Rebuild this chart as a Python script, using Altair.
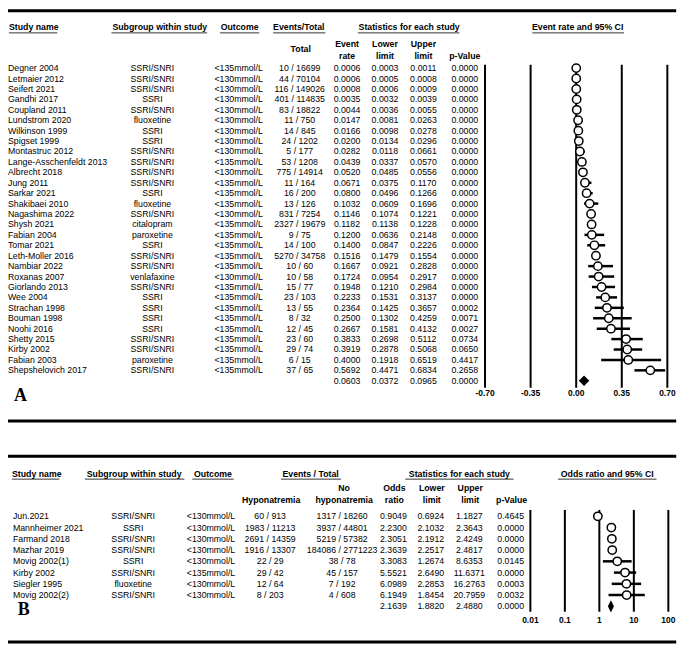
import altair as alt
import pandas as pd

# ---------------- Panel A data ----------------
a_study = ["Degner 2004", "Letmaier 2012", "Seifert 2021", "Gandhi 2017", "Coupland 2011",
           "Lundstrom 2020", "Wilkinson 1999", "Spigset 1999", "Montastruc 2012",
           "Lange-Asschenfeldt 2013", "Albrecht 2018", "Jung 2011", "Sarkar 2021",
           "Shakibaei 2010", "Nagashima 2022", "Shysh 2021", "Fabian 2004", "Tomar 2021",
           "Leth-Moller 2016", "Nambiar 2022", "Roxanas 2007", "Giorlando 2013", "Wee 2004",
           "Strachan 1998", "Bouman 1998", "Noohi 2016", "Shetty 2015", "Kirby 2002",
           "Fabian 2003", "Shepshelovich 2017"]
a_subgroup = ["SSRI/SNRI", "SSRI/SNRI", "SSRI/SNRI", "SSRI", "SSRI/SNRI", "fluoxetine", "SSRI",
              "SSRI", "SSRI/SNRI", "SSRI/SNRI", "SSRI/SNRI", "SSRI/SNRI", "SSRI", "fluoxetine",
              "SSRI/SNRI", "citalopram", "paroxetine", "SSRI", "SSRI/SNRI", "SSRI/SNRI",
              "venlafaxine", "SSRI/SNRI", "SSRI", "SSRI", "SSRI", "SSRI", "SSRI/SNRI",
              "SSRI/SNRI", "paroxetine", "SSRI/SNRI"]
a_outcome = ["<135mmol/L", "<130mmol/L", "<130mmol/L", "<130mmol/L", "<130mmol/L", "<130mmol/L",
             "<130mmol/L", "<130mmol/L", "<130mmol/L", "<135mmol/L", "<130mmol/L", "<135mmol/L",
             "<135mmol/L", "<135mmol/L", "<130mmol/L", "<135mmol/L", "<135mmol/L", "<135mmol/L",
             "<135mmol/L", "<135mmol/L", "<130mmol/L", "<135mmol/L", "<135mmol/L", "<135mmol/L",
             "<135mmol/L", "<135mmol/L", "<135mmol/L", "<135mmol/L", "<135mmol/L", "<135mmol/L"]
a_events = ["10 / 16699", "44 / 70104", "116 / 149026", "401 / 114835", "83 / 18822", "11 / 750",
            "14 / 845", "24 / 1202", "5 / 177", "53 / 1208", "775 / 14914", "11 / 164", "16 / 200",
            "13 / 126", "831 / 7254", "2327 / 19679", "9 / 75", "14 / 100", "5270 / 34758",
            "10 / 60", "10 / 58", "15 / 77", "23 / 103", "13 / 55", "8 / 32", "12 / 45", "23 / 60",
            "29 / 74", "6 / 15", "37 / 65"]
a_rate = [0.0006, 0.0006, 0.0008, 0.0035, 0.0044, 0.0147, 0.0166, 0.0200, 0.0282, 0.0439,
          0.0520, 0.0671, 0.0800, 0.1032, 0.1146, 0.1182, 0.1200, 0.1400, 0.1516, 0.1667,
          0.1724, 0.1948, 0.2233, 0.2364, 0.2500, 0.2667, 0.3833, 0.3919, 0.4000, 0.5692]
a_lower = [0.0003, 0.0005, 0.0006, 0.0032, 0.0036, 0.0081, 0.0098, 0.0134, 0.0118, 0.0337,
           0.0485, 0.0375, 0.0496, 0.0609, 0.1074, 0.1138, 0.0636, 0.0847, 0.1479, 0.0921,
           0.0954, 0.1210, 0.1531, 0.1425, 0.1302, 0.1581, 0.2698, 0.2878, 0.1918, 0.4471]
a_upper = [0.0011, 0.0008, 0.0009, 0.0039, 0.0055, 0.0263, 0.0278, 0.0296, 0.0661, 0.0570,
           0.0556, 0.1170, 0.1266, 0.1696, 0.1221, 0.1228, 0.2148, 0.2226, 0.1554, 0.2828,
           0.2917, 0.2984, 0.3137, 0.3657, 0.4259, 0.4132, 0.5112, 0.5068, 0.6519, 0.6834]
a_p = [0.0000] * 23 + [0.0002, 0.0071, 0.0027, 0.0734, 0.0650, 0.4417, 0.2658]
a_summary = [0.0603, 0.0372, 0.0965, 0.0000]
a_ticks = [-0.70, -0.35, 0.00, 0.35, 0.70]
a_tick_labels = ["-0.70", "-0.35", "0.00", "0.35", "0.70"]

# ---------------- Panel B data ----------------
b_study = ["Jun.2021", "Mannheimer 2021", "Farmand 2018", "Mazhar 2019", "Movig 2002(1)",
           "Kirby 2002", "Siegler 1995", "Movig 2002(2)"]
b_subgroup = ["SSRI/SNRI", "SSRI", "SSRI/SNRI", "SSRI/SNRI", "SSRI", "SSRI/SNRI", "fluoxetine",
              "SSRI/SNRI"]
b_outcome = ["<130mmol/L", "<130mmol/L", "<130mmol/L", "<130mmol/L", "<130mmol/L",
             "<135mmol/L", "<130mmol/L", "<130mmol/L"]
b_hypo = ["60 / 913", "1983 / 11213", "2691 / 14359", "1916 / 13307", "22 / 29", "29 / 42",
          "12 / 64", "8 / 203"]
b_nohypo = ["1317 / 18260", "3937 / 44801", "5219 / 57382", "184086 / 2771223", "38 / 78",
            "45 / 157", "7 / 192", "4 / 608"]
b_or = [0.9049, 2.2300, 2.3051, 2.3639, 3.3083, 5.5521, 6.0989, 6.1949]
b_lower = [0.6924, 2.1032, 2.1912, 2.2517, 1.2674, 2.6490, 2.2853, 1.8454]
b_upper = [1.1827, 2.3643, 2.4249, 2.4817, 8.6353, 11.6371, 16.2763, 20.7959]
b_p = [0.4645, 0.0000, 0.0000, 0.0000, 0.0145, 0.0000, 0.0003, 0.0032]
b_summary = [2.1639, 1.8820, 2.4880, 0.0000]
b_ticks = [0.01, 0.1, 1, 10, 100]
b_tick_labels = ["0.01", "0.1", "1", "10", "100"]

# ---------------- layout (reference pixel grid -> chart pixels) ----------------
REF_W, REF_H = 685, 653
W, H = 672, 637
X0, XS = -2.97, 0.99
Y0, YS = -1.5, 0.983


def cx(v):
    return X0 + XS * v


def cy(v):
    return Y0 + YS * v


FONT = "Liberation Sans, Arial, sans-serif"
SERIF = "Liberation Serif, Times New Roman, DejaVu Serif, serif"
FS = 8.8

LX = alt.Scale(domain=[0, REF_W], range=[cx(0), cx(REF_W)], zero=False, nice=False)
LY = alt.Scale(domain=[0, REF_H], range=[cy(0), cy(REF_H)], zero=False, nice=False)
A_ROW = alt.Scale(domain=[0, 30], range=[cy(61.5), cy(381)], zero=False, nice=False)
B_ROW = alt.Scale(domain=[0, 8], range=[cy(519.5), cy(611.5)], zero=False, nice=False)
FA = alt.Scale(domain=[-0.7, 0.7], range=[cx(487), cx(672)], zero=False, nice=False)
FB = alt.Scale(type="log", domain=[0.01, 100], range=[cx(533), cx(673)], nice=False)

a_cols = [("study", "left", 3), ("subgroup", "center", 149.5), ("outcome", "center", 237),
          ("events", "center", 299), ("est", "center", 347), ("lo", "center", 385.5),
          ("hi", "center", 424.5), ("p", "center", 466.5)]
b_cols = [("study", "left", 8), ("subgroup", "center", 130), ("outcome", "center", 209),
          ("hypo", "center", 269), ("nohypo", "center", 342), ("est", "center", 394),
          ("lo", "center", 432), ("hi", "center", 471), ("p", "center", 513)]


def f4(v):
    return f"{v:.4f}"


def long_table(cols, records, summary, n):
    out = []
    for i, rec in enumerate(records):
        for key, al, x in cols:
            out.append(dict(row=i, px=x, text=rec[key], al=al))
    for key, val in zip(["est", "lo", "hi", "p"], summary):
        x = [c[2] for c in cols if c[0] == key][0]
        out.append(dict(row=n, px=x, text=f4(val), al="center"))
    return pd.DataFrame(out)


a_records = [dict(study=a_study[i], subgroup=a_subgroup[i], outcome=a_outcome[i],
                  events=a_events[i], est=f4(a_rate[i]), lo=f4(a_lower[i]),
                  hi=f4(a_upper[i]), p=f4(a_p[i])) for i in range(len(a_study))]
b_records = [dict(study=b_study[i], subgroup=b_subgroup[i], outcome=b_outcome[i],
                  hypo=b_hypo[i], nohypo=b_nohypo[i], est=f4(b_or[i]), lo=f4(b_lower[i]),
                  hi=f4(b_upper[i]), p=f4(b_p[i])) for i in range(len(b_study))]
a_tab = long_table(a_cols, a_records, a_summary, len(a_study))
b_tab = long_table(b_cols, b_records, b_summary, len(b_study))

# headers: text, x, y, alignment, underline extent
headers = pd.DataFrame([
    ("Study name", 4, 20, "left", 4, 53),
    ("Subgroup within study", 157, 20, "center", 108, 205),
    ("Outcome", 238, 20, "center", 218, 258),
    ("Events/Total", 298, 20, "center", 272, 325),
    ("Statistics for each study", 410, 20, "center", 358, 461),
    ("Event rate and 95% CI", 581, 20, "center", 535, 628),
    ("Total", 300, 42, "center", None, None),
    ("Event", 347, 37, "center", None, None),
    ("rate", 347, 49, "center", None, None),
    ("Lower", 385.5, 37, "center", None, None),
    ("limit", 385.5, 49, "center", None, None),
    ("Upper", 424.5, 37, "center", None, None),
    ("limit", 424.5, 49, "center", None, None),
    ("p-Value", 466.5, 49, "center", None, None),
    ("Study name", 7, 476, "left", 7, 55),
    ("Subgroup within study", 131, 476, "center", 81, 182),
    ("Outcome", 211, 476, "center", 190, 232),
    ("Events / Total", 310, 476, "center", 280, 341),
    ("Statistics for each study", 461, 476, "center", 406, 516),
    ("Odds ratio and 95% CI", 611, 476, "center", 561, 661),
    ("No", 344, 491, "center", None, None),
    ("Odds", 395, 491, "center", None, None),
    ("Lower", 433, 491, "center", None, None),
    ("Upper", 472, 491, "center", None, None),
    ("Hyponatremia", 270, 503, "center", None, None),
    ("hyponatremia", 344, 503, "center", None, None),
    ("ratio", 395, 503, "center", None, None),
    ("limit", 433, 503, "center", None, None),
    ("limit", 472, 503, "center", None, None),
    ("p-Value", 514, 503, "center", None, None),
], columns=["text", "px", "py", "al", "u1", "u2"])
underlines = headers.dropna(subset=["u1"]).copy()
underlines["uy"] = underlines["py"] + 5.5

frame_lines = pd.DataFrame({"y": [3, 422, 458, 648], "x1": [3] * 4, "x2": [681] * 4})
letters = pd.DataFrame({"text": ["A", "B"], "px": [9, 13], "py": [397, 615]})

layers = []

# thick frame lines
layers.append(alt.Chart(frame_lines).mark_rule(color="black", strokeWidth=3).encode(
    x=alt.X("x1:Q", scale=LX, axis=None), x2="x2:Q", y=alt.Y("y:Q", scale=LY, axis=None)))

# header underlines
layers.append(alt.Chart(underlines).mark_rule(color="black", strokeWidth=0.8).encode(
    x=alt.X("u1:Q", scale=LX, axis=None), x2="u2:Q", y=alt.Y("uy:Q", scale=LY, axis=None)))

# header texts
for al in ["left", "center"]:
    layers.append(alt.Chart(headers[headers["al"] == al]).mark_text(
        align=al, baseline="middle", font=FONT, fontSize=FS, fontWeight="bold", color="black"
    ).encode(x=alt.X("px:Q", scale=LX, axis=None), y=alt.Y("py:Q", scale=LY, axis=None),
             text="text:N"))

# table body texts
for tab, rs in [(a_tab, A_ROW), (b_tab, B_ROW)]:
    for al in ["left", "center"]:
        layers.append(alt.Chart(tab[tab["al"] == al]).mark_text(
            align=al, baseline="middle", font=FONT, fontSize=FS, color="black"
        ).encode(x=alt.X("px:Q", scale=LX, axis=None), y=alt.Y("row:Q", scale=rs, axis=None),
                 text="text:N"))

# forest plots
forest_specs = [
    (a_rate, a_lower, a_upper, a_summary, a_ticks, a_tick_labels, FA, A_ROW, 58, 388, 393,
     "M0,-1L1,0L0,1L-1,0Z"),
    (b_or, b_lower, b_upper, b_summary, b_ticks, b_tick_labels, FB, B_ROW, 513, 617, 625,
     "M0,-1L0.5,0L0,1L-0.5,0Z"),
]
for est, lo, hi, summ, ticks, tlabels, fx, rs, gy1, gy2, ty, dshape in forest_specs:
    grid = pd.DataFrame({"t": ticks, "y1": [gy1] * len(ticks), "y2": [gy2] * len(ticks),
                         "ty": [ty] * len(ticks), "label": tlabels})
    fdf = pd.DataFrame({"row": list(range(len(est))), "est": est, "lo": lo, "hi": hi})
    sdf = pd.DataFrame({"row": [len(est)], "est": [summ[0]]})
    layers.append(alt.Chart(grid).mark_rule(color="black", strokeWidth=2).encode(
        x=alt.X("t:Q", scale=fx, axis=None), y=alt.Y("y1:Q", scale=LY, axis=None), y2="y2:Q"))
    layers.append(alt.Chart(grid).mark_text(
        align="center", baseline="middle", font=FONT, fontSize=8.5, fontWeight="bold",
        color="black").encode(x=alt.X("t:Q", scale=fx, axis=None),
                              y=alt.Y("ty:Q", scale=LY, axis=None), text="label:N"))
    layers.append(alt.Chart(fdf).mark_rule(color="black", strokeWidth=2.5).encode(
        x=alt.X("lo:Q", scale=fx, axis=None), x2="hi:Q",
        y=alt.Y("row:Q", scale=rs, axis=None)))
    layers.append(alt.Chart(fdf).mark_point(
        shape="circle", filled=True, fill="white", stroke="black", strokeWidth=1.5, size=70,
        opacity=1).encode(x=alt.X("est:Q", scale=fx, axis=None),
                          y=alt.Y("row:Q", scale=rs, axis=None)))
    layers.append(alt.Chart(sdf).mark_point(
        shape=dshape, filled=True, fill="black", stroke="black", size=60, opacity=1).encode(
        x=alt.X("est:Q", scale=fx, axis=None), y=alt.Y("row:Q", scale=rs, axis=None)))

# panel letters
layers.append(alt.Chart(letters).mark_text(
    align="left", baseline="middle", font=SERIF, fontSize=18, fontWeight="bold",
    color="black").encode(x=alt.X("px:Q", scale=LX, axis=None),
                          y=alt.Y("py:Q", scale=LY, axis=None), text="text:N"))

chart = alt.layer(*layers).resolve_scale(x="independent", y="independent").properties(
    width=W, height=H, padding=0, autosize=alt.AutoSizeParams(type="none"),
    background="white").configure_view(stroke=None)

chart.save("out.html", embed_options={"renderer": "svg", "actions": False})
